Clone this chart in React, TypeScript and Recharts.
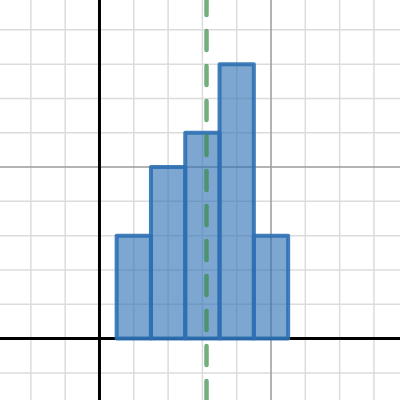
import { ComposedChart, XAxis, YAxis, CartesianGrid, ReferenceArea, ReferenceLine } from "recharts";

// histogram bins (centres) and their counts
const binCenters = [1, 2, 3, 4, 5];
const frequencies = [3, 5, 6, 8, 3];
const binWidth = 1;

// grid positions
const minorX = [-2, -1, 1, 2, 3, 4, 6, 7, 8];
const minorY = [-1, 1, 2, 3, 4, 6, 7, 8, 9];
const majorX = [5];
const majorY = [5];

const xDomain = [-2.9, 8.76];
const yDomain = [-1.79, 9.87];

const total = frequencies.reduce((a, b) => a + b, 0);
const mean = binCenters.reduce((s, c, i) => s + c * frequencies[i], 0) / total;

const bins = binCenters.map((c, i) => ({ x1: c - binWidth / 2, x2: c + binWidth / 2, count: frequencies[i] }));

export default function App() {
  return (
    <div style={{ position: "absolute", left: 0, top: 0, width: 400, height: 400, background: "#fff" }}>
      <ComposedChart width={400} height={400} data={bins} margin={{ top: 0, right: 0, bottom: 0, left: 0 }}>
        <XAxis type="number" dataKey="x1" domain={xDomain} allowDataOverflow hide />
        <YAxis type="number" domain={yDomain} allowDataOverflow hide />

        {/* grid: minor, major, then axes */}
        <CartesianGrid verticalValues={minorX} horizontalValues={minorY} stroke="#dcdcdc" strokeWidth={1.5} />
        <CartesianGrid verticalValues={majorX} horizontalValues={majorY} stroke="#9a9a9a" strokeWidth={1.5} />
        <CartesianGrid verticalValues={[0]} horizontalValues={[0]} stroke="#000" strokeWidth={3} />

        {/* histogram bars */}
        {bins.map((b, i) => (
          <ReferenceArea
            key={"bin" + i}
            x1={b.x1}
            x2={b.x2}
            y1={0}
            y2={b.count}
            fill="#2d70b3"
            fillOpacity={0.62}
            stroke="#2d70b3"
            strokeOpacity={0.9}
            strokeWidth={4}
            strokeLinejoin="round"
          />
        ))}

        {/* mean marker */}
        <ReferenceLine
          x={mean}
          stroke="#388c46"
          strokeOpacity={0.7}
          strokeWidth={4.5}
          strokeDasharray="19 16"
          strokeLinecap="round"
        />
      </ComposedChart>
    </div>
  );
}
